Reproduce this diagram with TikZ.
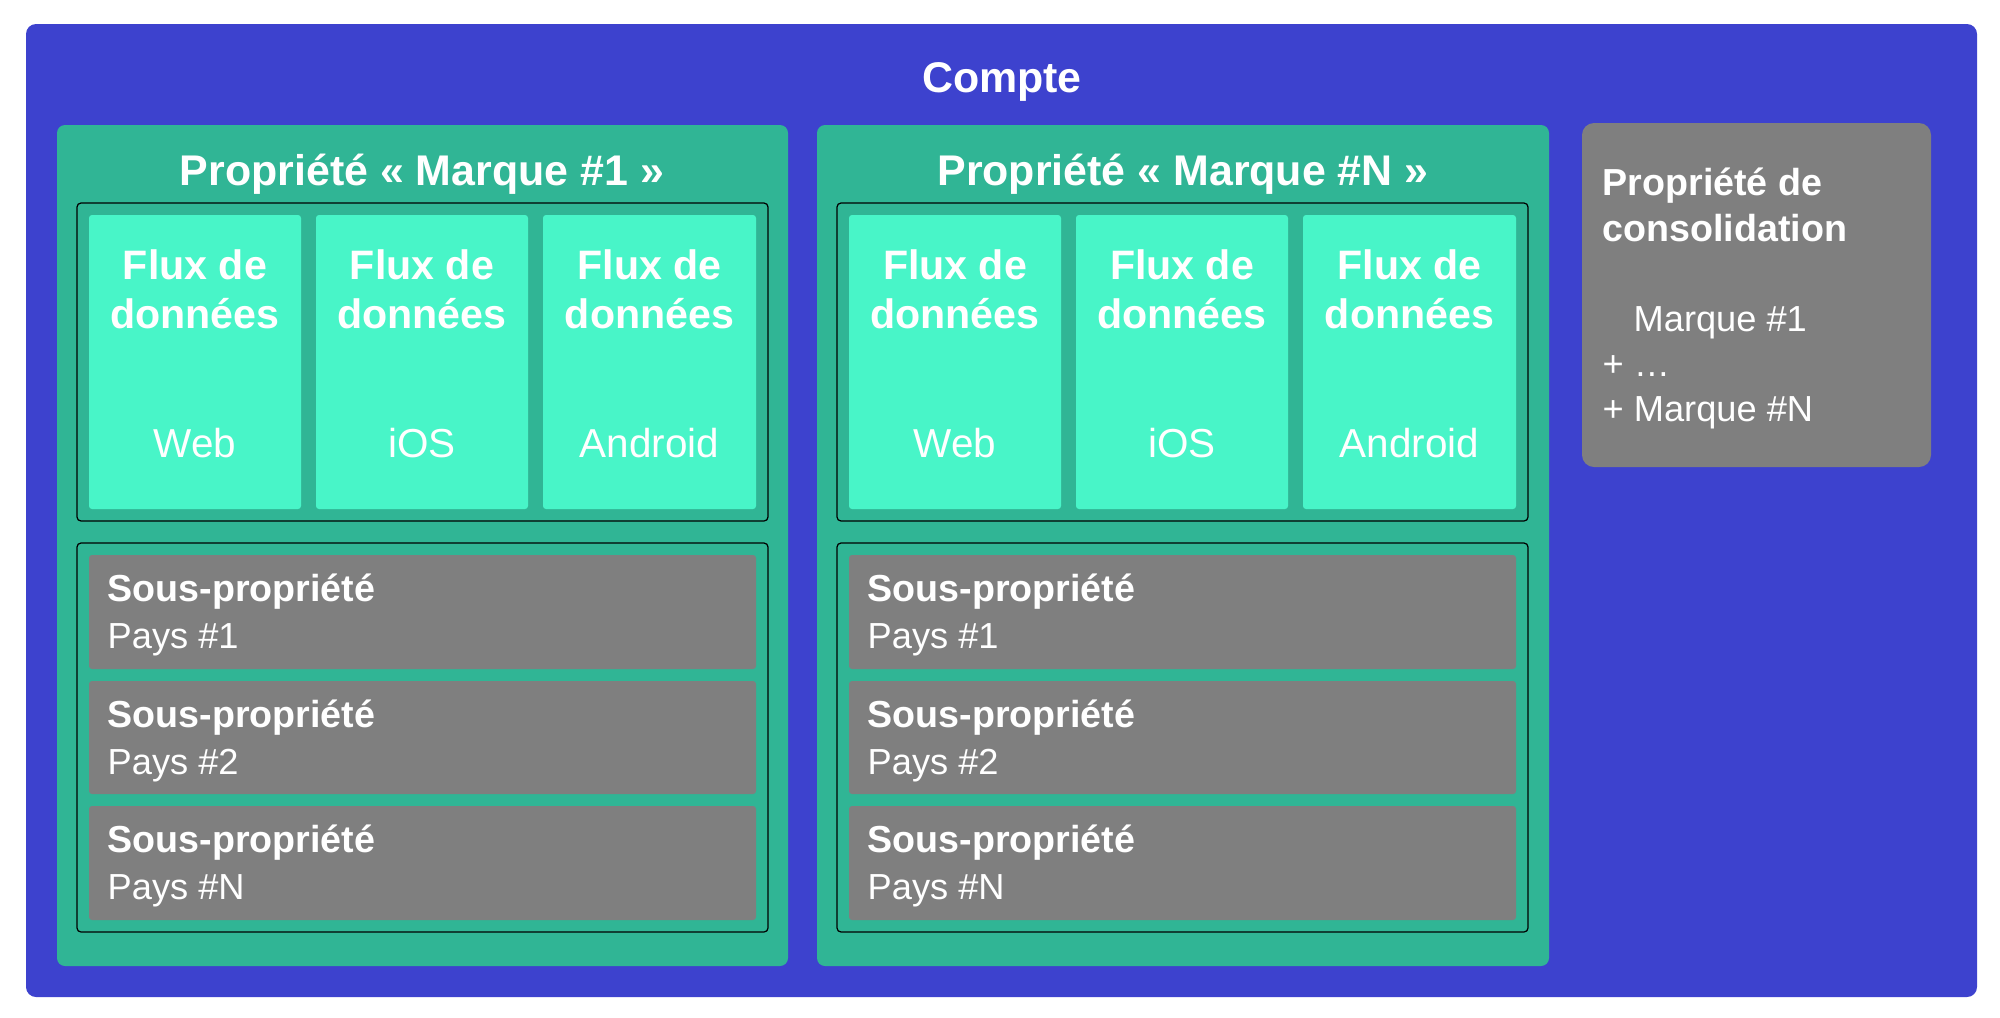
\documentclass[tikz,border=0pt]{standalone}
\usepackage{fontspec}
\setmainfont{Liberation Sans}

\definecolor{bleucompte}{HTML}{3D42CE}
\definecolor{vertprop}{HTML}{30B595}
\definecolor{vertflux}{HTML}{48F5C8}
\definecolor{grissous}{HTML}{7F7F7F}

\tikzset{
	texteblanc/.style={text=white, inner sep=0pt, anchor=base},
	titre/.style={texteblanc, font=\bfseries\fontsize{12.2}{14}\selectfont},
	fluxtitre/.style={texteblanc, font=\bfseries\fontsize{11.7}{14}\selectfont},
	fluxnom/.style={texteblanc, font=\fontsize{11.5}{14}\selectfont},
	soustitre/.style={texteblanc, anchor=base west, font=\bfseries\fontsize{10.7}{13}\selectfont},
	soustexte/.style={texteblanc, anchor=base west, font=\fontsize{10.3}{13}\selectfont},
	cadre/.style={draw=black, line width=0.35pt, rounded corners=0.04cm},
}

\begin{document}
\begin{tikzpicture}[x=0.01cm, y=-0.01cm]
		\useasboundingbox (0,0) rectangle (2000,1017);

		\fill[bleucompte, rounded corners=0.1cm] (26,24) rectangle (1977,997);
		\fill[vertprop, rounded corners=0.08cm] (57,125) rectangle (788,966);
		\fill[vertprop, rounded corners=0.08cm] (817,125) rectangle (1549,966);
		\fill[grissous, rounded corners=0.12cm] (1582,123) rectangle (1931,467);

		\draw[cadre] (77,203) rectangle (768,521);
		\draw[cadre] (77,543) rectangle (768,932);
		\draw[cadre] (837,203) rectangle (1528,521);
		\draw[cadre] (837,543) rectangle (1528,932);

		\fill[vertflux, rounded corners=0.03cm] (89,215) rectangle (301,509);
		\fill[vertflux, rounded corners=0.03cm] (316,215) rectangle (528,509);
		\fill[vertflux, rounded corners=0.03cm] (543,215) rectangle (756,509);
		\fill[vertflux, rounded corners=0.03cm] (849,215) rectangle (1061,509);
		\fill[vertflux, rounded corners=0.03cm] (1076,215) rectangle (1288,509);
		\fill[vertflux, rounded corners=0.03cm] (1303,215) rectangle (1516,509);

		\fill[grissous, rounded corners=0.03cm] (89,555) rectangle (756,669);
		\fill[grissous, rounded corners=0.03cm] (89,681) rectangle (756,794);
		\fill[grissous, rounded corners=0.03cm] (89,806) rectangle (756,920);
		\fill[grissous, rounded corners=0.03cm] (849,555) rectangle (1516,669);
		\fill[grissous, rounded corners=0.03cm] (849,681) rectangle (1516,794);
		\fill[grissous, rounded corners=0.03cm] (849,806) rectangle (1516,920);

		\node[titre] (compte) at (1002,92) {Compte};
		\node[titre] (marque1) at (422,185) {Propriété « Marque \#1 »};
		\node[titre] (marqueN) at (1183,185) {Propriété « Marque \#N »};

		\node[fluxtitre] (fluxa1) at (195,279) {Flux de};
		\node[fluxtitre] (fluxb1) at (195,328) {données};
		\node[fluxnom] (web1) at (195,457) {Web};
		\node[fluxtitre] (fluxa2) at (422,279) {Flux de};
		\node[fluxtitre] (fluxb2) at (422,328) {données};
		\node[fluxnom] (ios1) at (422,457) {iOS};
		\node[fluxtitre] (fluxa3) at (649.5,279) {Flux de};
		\node[fluxtitre] (fluxb3) at (649.5,328) {données};
		\node[fluxnom] (android1) at (649.5,457) {Android};

		\node[fluxtitre] (fluxa4) at (955,279) {Flux de};
		\node[fluxtitre] (fluxb4) at (955,328) {données};
		\node[fluxnom] (web2) at (955,457) {Web};
		\node[fluxtitre] (fluxa5) at (1182,279) {Flux de};
		\node[fluxtitre] (fluxb5) at (1182,328) {données};
		\node[fluxnom] (ios2) at (1182,457) {iOS};
		\node[fluxtitre] (fluxa6) at (1409.5,279) {Flux de};
		\node[fluxtitre] (fluxb6) at (1409.5,328) {données};
		\node[fluxnom] (android2) at (1409.5,457) {Android};

		\node[soustitre] (sousa1) at (107,601) {Sous-propriété};
		\node[soustexte] (pays11) at (107,648) {Pays \#1};
		\node[soustitre] (sousb1) at (107,727) {Sous-propriété};
		\node[soustexte] (pays12) at (107,774) {Pays \#2};
		\node[soustitre] (sousc1) at (107,852) {Sous-propriété};
		\node[soustexte] (pays1N) at (107,899) {Pays \#N};

		\node[soustitre] (sousa2) at (867,601) {Sous-propriété};
		\node[soustexte] (pays21) at (867,648) {Pays \#1};
		\node[soustitre] (sousb2) at (867,727) {Sous-propriété};
		\node[soustexte] (pays22) at (867,774) {Pays \#2};
		\node[soustitre] (sousc2) at (867,852) {Sous-propriété};
		\node[soustexte] (pays2N) at (867,899) {Pays \#N};

		\node[soustitre] (consoa) at (1602,195) {Propriété de};
		\node[soustitre] (consob) at (1602,241) {consolidation};
		\node[soustexte] (consoM1) at (1633,331) {Marque \#1};
		\node[soustexte] (consoplus) at (1602,376) {+ …};
		\node[soustexte] (consoMN) at (1602,421) {+ Marque \#N};
	\end{tikzpicture}
\end{document}
